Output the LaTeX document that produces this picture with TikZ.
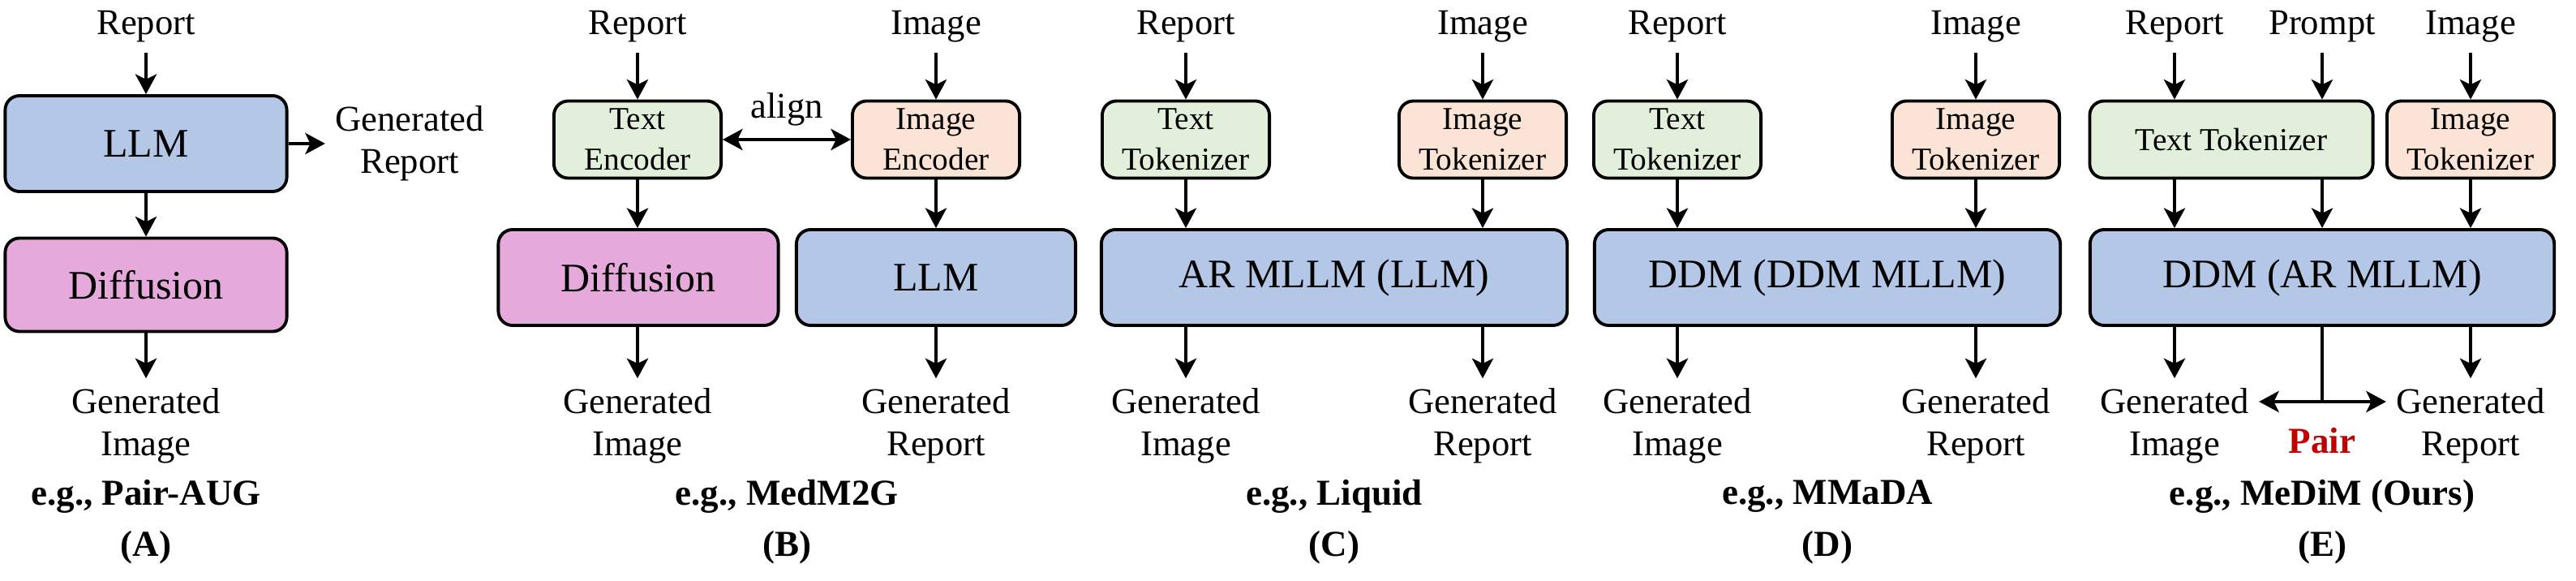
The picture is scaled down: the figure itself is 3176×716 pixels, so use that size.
\documentclass[tikz,border=0pt]{standalone}
\usepackage{fontspec}
\setmainfont{Liberation Serif}
\usetikzlibrary{arrows.meta, positioning}

\definecolor{llmblue}{HTML}{B4C7E7}
\definecolor{diffpink}{HTML}{E6A9DC}
\definecolor{txtgreen}{HTML}{E2EFDA}
\definecolor{imgpeach}{HTML}{FBE4D5}
\definecolor{pairred}{HTML}{C00000}

\tikzset{
    box/.style={draw, line width=1.1pt, rounded corners=5pt, align=center, inner sep=0pt},
    bigbox/.style={box, minimum height=1.18cm, font=\fontsize{14.2}{17}\selectfont},
    smallbox/.style={box, minimum height=0.95cm, minimum width=2.06cm, font=\fontsize{11.2}{14.2}\selectfont},
    lbl/.style={align=center, font=\fontsize{12.7}{14.8}\selectfont},
    egtext/.style={font=\fontsize{12.8}{15}\selectfont\bfseries},
    arr/.style={-{Stealth[length=7pt,width=7.5pt,inset=1.8pt]}, line width=0.9pt},
    dblarr/.style={{Stealth[length=7pt,width=7.5pt,inset=1.8pt]}-{Stealth[length=7pt,width=7.5pt,inset=1.8pt]}, line width=0.9pt}
}

\begin{document}
\begin{tikzpicture}[x=0.01cm, y=-0.01cm]
        \useasboundingbox (0,0) rectangle (3176,716);

        % (A) LLM then diffusion
        \node[lbl] (repA) at (180,33) {Report};
        \node[bigbox, fill=llmblue, minimum width=3.47cm] (llmA) at (180,177) {LLM};
        \node[bigbox, fill=diffpink, minimum width=3.47cm, minimum height=1.15cm] (diffA) at (180,351) {Diffusion};
        \node[lbl] (grA) at (505,177) {Generated\\Report};
        \node[lbl] (giA) at (180,525) {Generated\\Image};
        \node[egtext] (egA) at (180,612) {e.g., Pair-AUG};
        \node[egtext] (tagA) at (180,675) {(A)};
        \draw[arr] (repA) -- (llmA);
        \draw[arr] (llmA) -- (grA);
        \draw[arr] (llmA) -- (diffA);
        \draw[arr] (diffA) -- (giA);

        % (B) aligned encoders
        \node[lbl] (repB) at (786,33) {Report};
        \node[lbl] (imgB) at (1154,33) {Image};
        \node[smallbox, fill=txtgreen] (encT) at (786,172) {Text\\Encoder};
        \node[smallbox, fill=imgpeach] (encI) at (1154,172) {Image\\Encoder};
        \node[bigbox, fill=diffpink, minimum width=3.45cm] (diffB) at (787,342) {Diffusion};
        \node[bigbox, fill=llmblue, minimum width=3.44cm] (llmB) at (1154,342) {LLM};
        \node[lbl] (giB) at (786,525) {Generated\\Image};
        \node[lbl] (grB) at (1154,525) {Generated\\Report};
        \node[egtext] (egB) at (970,612) {e.g., MedM2G};
        \node[egtext] (tagB) at (970,675) {(B)};
        \draw[arr] (repB) -- (encT);
        \draw[arr] (imgB) -- (encI);
        \draw[dblarr] (encT) -- node[lbl, above=1pt] {align} (encI);
        \draw[arr] (encT) -- (encT |- diffB.north);
        \draw[arr] (encI) -- (llmB);
        \draw[arr] (diffB.south -| giB) -- (giB);
        \draw[arr] (llmB) -- (grB);

        % (C) and (D) share one layout
        \foreach \p/\xl/\xr/\xm/\bigname/\egname in
            {C/1462/1828/1645/AR MLLM (LLM)/Liquid, D/2068/2436/2253/DDM (DDM MLLM)/MMaDA} {
            \node[lbl] (rep\p) at (\xl,33) {Report};
            \node[lbl] (img\p) at (\xr,33) {Image};
            \node[smallbox, fill=txtgreen] (tokT\p) at (\xl,172) {Text\\Tokenizer};
            \node[smallbox, fill=imgpeach] (tokI\p) at (\xr,172) {Image\\Tokenizer};
            \node[bigbox, fill=llmblue, minimum width=5.74cm] (core\p) at (\xm,342) {\bigname};
            \node[lbl] (gi\p) at (\xl,525) {Generated\\Image};
            \node[lbl] (gr\p) at (\xr,525) {Generated\\Report};
            \node[egtext] (eg\p) at (\xm,612) {e.g., \egname};
            \node[egtext] (tag\p) at (\xm,675) {(\p)};
            \draw[arr] (rep\p) -- (tokT\p);
            \draw[arr] (img\p) -- (tokI\p);
            \draw[arr] (tokT\p) -- (tokT\p |- core\p.north);
            \draw[arr] (tokI\p) -- (tokI\p |- core\p.north);
            \draw[arr] (core\p.south -| gi\p) -- (gi\p);
            \draw[arr] (core\p.south -| gr\p) -- (gr\p);
        }

        % (E) ours, paired output
        \node[lbl] (repE) at (2681,33) {Report};
        \node[lbl] (prmE) at (2863,33) {Prompt};
        \node[lbl] (imgE) at (3046,33) {Image};
        \node[smallbox, fill=txtgreen, minimum width=3.49cm] (tokTE) at (2751,172) {Text Tokenizer};
        \node[smallbox, fill=imgpeach] (tokIE) at (3046,172) {Image\\Tokenizer};
        \node[bigbox, fill=llmblue, minimum width=5.72cm] (ddmE) at (2863,342) {DDM (AR MLLM)};
        \node[lbl] (giE) at (2681,525) {Generated\\Image};
        \node[lbl] (grE) at (3046,525) {Generated\\Report};
        \coordinate (pairE) at (2863,495);
        \node[egtext, text=pairred] (pairlbl) at (2863,543) {Pair};
        \node[egtext] (egE) at (2863,612) {e.g., MeDiM (Ours)};
        \node[egtext] (tagE) at (2863,675) {(E)};
        \draw[arr] (repE) -- (repE |- tokTE.north);
        \draw[arr] (prmE) -- (prmE |- tokTE.north);
        \draw[arr] (imgE) -- (tokIE);
        \draw[arr] (tokTE.south -| repE) -- (ddmE.north -| repE);
        \draw[arr] (tokTE.south -| prmE) -- (ddmE.north -| prmE);
        \draw[arr] (tokIE) -- (ddmE.north -| tokIE);
        \draw[arr] (ddmE.south -| giE) -- (giE);
        \draw[arr] (ddmE.south -| grE) -- (grE);
        \draw[line width=0.9pt] (ddmE.south) -- (pairE);
        \draw[dblarr] (pairE -| giE.east) -- (pairE -| grE.west);
\end{tikzpicture}
\end{document}
